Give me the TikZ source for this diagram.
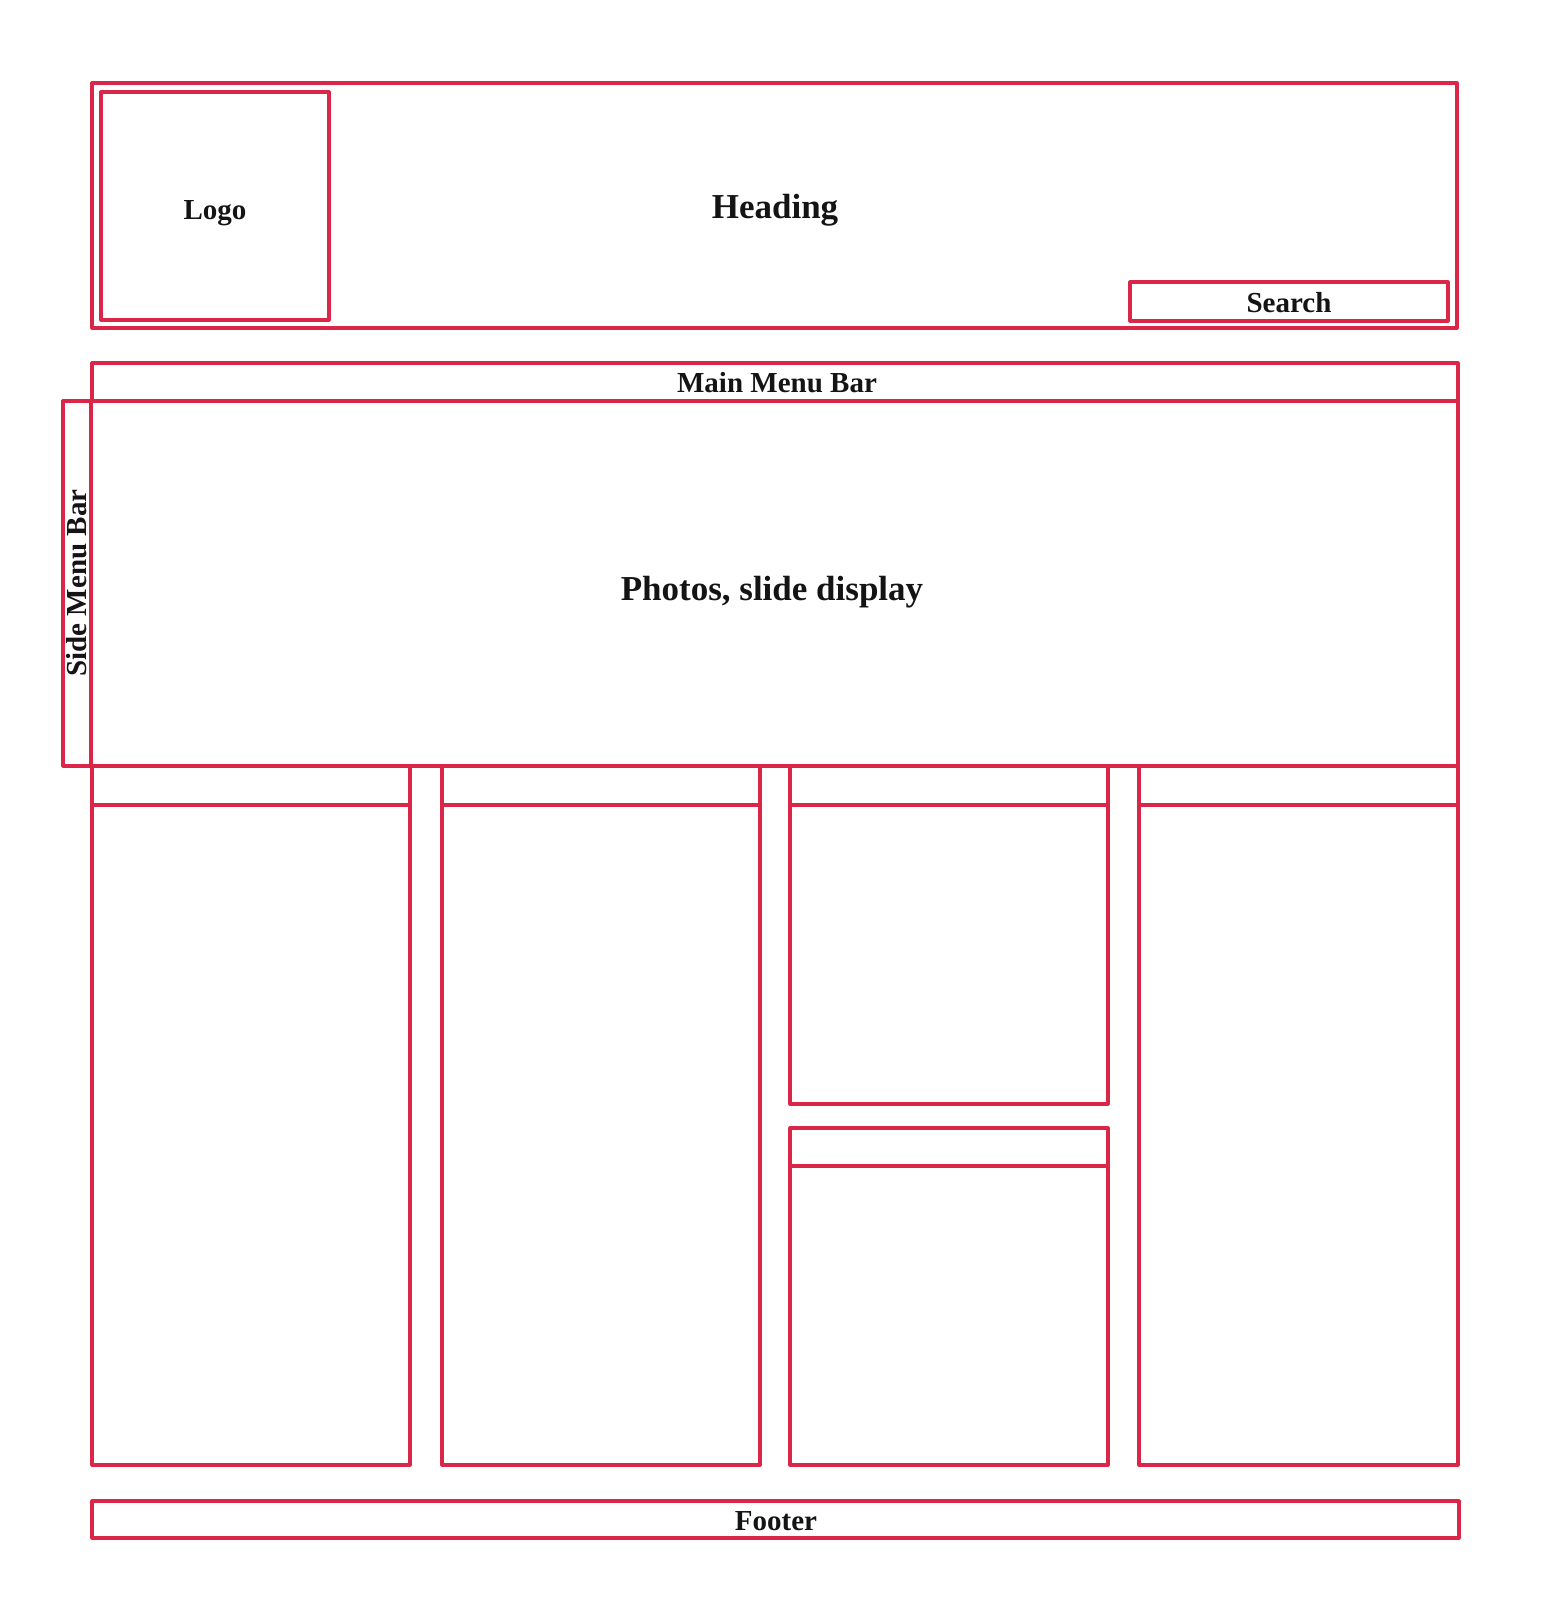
\documentclass[tikz,border=0pt]{standalone}
\usepackage{fontspec}
\setmainfont{Liberation Serif}
\definecolor{wire}{RGB}{218,38,72}
\definecolor{ink}{RGB}{20,20,20}
\begin{document}
\begin{tikzpicture}[x=1pt,y=-1pt,
  box/.style={draw=wire,line width=3.2pt,line join=round},
  big/.style={inner sep=0pt,anchor=base,text=ink,font=\fontsize{35}{40}\selectfont\bfseries},
  small/.style={inner sep=0pt,anchor=base,text=ink,font=\fontsize{29}{34}\selectfont\bfseries}]
\useasboundingbox (0,0) rectangle (1553,1600);
% header
\draw[box] (92,83) rectangle (1457,328);
\draw[box] (101,92) rectangle (329,320);
\draw[box] (1130,282) rectangle (1448,321);
\node[small] (logo) at (215,219) {Logo};
\node[big] (heading) at (775,218) {Heading};
\node[small] (search) at (1289,312) {Search};
% main menu
\draw[box] (92,363) rectangle (1458,401);
\node[small] (mainmenu) at (777,392) {Main Menu Bar};
% side menu and photos
\draw[box] (63,401) rectangle (91,766);
\draw[box] (91,401) rectangle (1458,766);
\node[small,rotate=90] (sidemenu) at (86.5,583) {Side Menu Bar};
\node[big] (photos) at (772,600) {Photos, slide display};
% columns
\draw[box] (92,766) rectangle (410,1465);
\draw[box] (92,805) -- (410,805);
\draw[box] (442,766) rectangle (760,1465);
\draw[box] (442,805) -- (760,805);
\draw[box] (790,766) rectangle (1108,1104);
\draw[box] (790,805) -- (1108,805);
\draw[box] (790,1128) rectangle (1108,1465);
\draw[box] (790,1166) -- (1108,1166);
\draw[box] (1139,766) rectangle (1458,1465);
\draw[box] (1139,805) -- (1458,805);
% footer
\draw[box] (92,1501) rectangle (1459,1538);
\node[small] (footer) at (776,1530) {Footer};
\end{tikzpicture}
\end{document}
